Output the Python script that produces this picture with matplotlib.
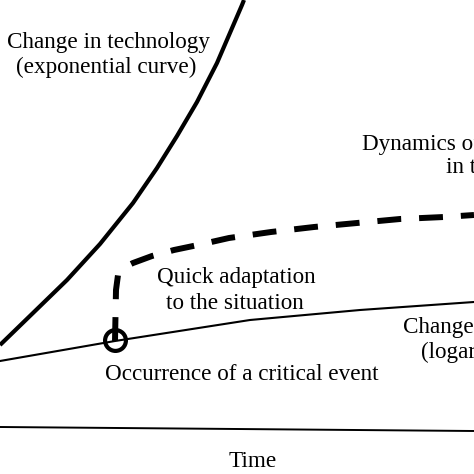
import matplotlib
matplotlib.use("Agg")
import matplotlib.pyplot as plt

# Data (horizontal position = time, vertical = level, in picture units, y grows downward)
tech_x = [0, 33, 67, 100, 133, 157, 177, 197, 217, 242, 244]
tech_y = [345, 313, 280, 244, 203, 168, 136, 102, 63, 5, 0]

log_x = [0, 115, 250, 360, 474]
log_y = [361, 341, 320, 310, 302]

adapt_x = [115, 116, 118, 125, 133, 152, 174, 198, 229, 271, 314, 357, 400, 444, 474]
adapt_y = [341, 290, 275, 267, 263, 256, 250, 245, 238, 232, 227, 223, 219, 217, 215]

event_x = [115]
event_y = [340]

axis_x = [0, 474]
axis_y = [427, 431]

fig = plt.figure(figsize=(4.74, 4.74), dpi=100)
ax = fig.add_axes([0, 0, 1, 1])
ax.set_xlim(0, 474)
ax.set_ylim(474, 0)
ax.axis("off")

ax.plot(axis_x, axis_y, color="black", lw=1.4, solid_capstyle="butt")
ax.plot(log_x, log_y, color="black", lw=1.5)
ax.plot(tech_x, tech_y, color="black", lw=3.0, solid_capstyle="butt",
        solid_joinstyle="round")
ax.plot(adapt_x, adapt_y, color="black", lw=4.3, linestyle=(0, (4.0, 3.0)),
        dash_capstyle="butt")
ax.plot(event_x, event_y, marker="o", markersize=15, markerfacecolor="none",
        markeredgecolor="black", markeredgewidth=3.0, linestyle="none")

font = dict(family="Liberation Serif", fontsize=16.7, color="black")

ax.text(108.5, 48, "Change in technology", ha="center", va="baseline", **font)
ax.text(106, 72.5, "(exponential curve)", ha="center", va="baseline", **font)

ax.text(362, 150, "Dynamics of adaptation", ha="left", va="baseline", **font)
ax.text(446, 173, "in the organization", ha="left", va="baseline", **font)

ax.text(236, 283, "Quick adaptation", ha="center", va="baseline", **font)
ax.text(234.5, 309, "to the situation", ha="center", va="baseline", **font)

ax.text(403, 333, "Change in society", ha="left", va="baseline", **font)
ax.text(421, 358, "(logarithmic curve)", ha="left", va="baseline", **font)

ax.text(242, 380, "Occurrence of a critical event", ha="center", va="baseline", **font)

ax.text(253, 467, "Time", ha="center", va="baseline", **font)

fig.savefig("out.png", dpi=100)
